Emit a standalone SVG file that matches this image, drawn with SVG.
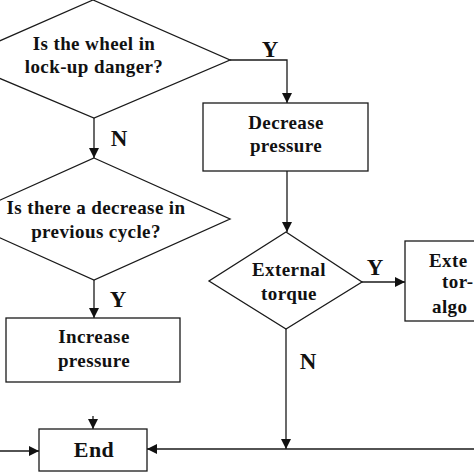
<svg xmlns="http://www.w3.org/2000/svg" width="474" height="474" viewBox="0 0 474 474">
<style>
.shape{fill:#fff;stroke:#1a1a1a;stroke-width:1.3}
.line{fill:none;stroke:#1a1a1a;stroke-width:1.3}
.t{font-family:"Liberation Serif","Times New Roman",serif;font-weight:bold;font-size:19px;letter-spacing:0.4px;fill:#111;text-anchor:middle}
.lbl{font-family:"Liberation Serif","Times New Roman",serif;font-weight:bold;font-size:23px;fill:#111;text-anchor:middle}
.end{font-size:22px}
</style>
<defs>
<marker id="ah" viewBox="0 0 10 10" refX="10" refY="5" markerWidth="11" markerHeight="10" markerUnits="userSpaceOnUse" orient="auto">
<path d="M0,0 L10,5 L0,10 Z" fill="#111"/>
</marker>
</defs>
<rect width="474" height="474" fill="#fff"/>
<g id="connectors">
<path class="line" d="M230,60 H287 V103" marker-end="url(#ah)"/>
<path class="line" d="M94,118 V158" marker-end="url(#ah)"/>
<path class="line" d="M287,171 V232" marker-end="url(#ah)"/>
<path class="line" d="M94,280 V318" marker-end="url(#ah)"/>
<path class="line" d="M362,282 H405" marker-end="url(#ah)"/>
<path class="line" d="M286,329 V449" marker-end="url(#ah)"/>
<path class="line" d="M474,449 H147" marker-end="url(#ah)"/>
<path class="line" d="M0,451 H39" marker-end="url(#ah)"/>
<path class="line" d="M93,416 V429" marker-end="url(#ah)"/>
<text class="lbl" x="270" y="57">Y</text>
<text class="lbl" x="119" y="146">N</text>
<text class="lbl" x="118" y="307">Y</text>
<text class="lbl" x="375" y="275">Y</text>
<text class="lbl" x="308" y="369">N</text>
</g>
<g id="wheel-danger">
<polygon class="shape" points="93,0 230,60 94,118 -44,60"/>
<text class="t" x="94" y="50">Is the wheel in</text>
<text class="t" x="94" y="73">lock-up danger?</text>
</g>
<g id="decrease-pressure">
<rect class="shape" x="203" y="103" width="165" height="68"/>
<text class="t" x="286" y="129">Decrease</text>
<text class="t" x="286" y="152">pressure</text>
</g>
<g id="previous-decrease">
<polygon class="shape" points="94,158 230,219 94,280 -42,219"/>
<text class="t" x="96" y="214">Is there a decrease in</text>
<text class="t" x="96" y="238">previous cycle?</text>
</g>
<g id="external-torque">
<polygon class="shape" points="286,232 362,282 286,329 209,281"/>
<text class="t" x="289" y="276">External</text>
<text class="t" x="289" y="300">torque</text>
</g>
<g id="external-algorithm">
<rect class="shape" x="405" y="241" width="120" height="80"/>
<text class="t" x="429" y="267" style="text-anchor:start">Exte</text>
<text class="t" x="442" y="288" style="text-anchor:start">tor-</text>
<text class="t" x="432" y="313" style="text-anchor:start">algo</text>
</g>
<g id="increase-pressure">
<rect class="shape" x="6" y="318" width="174" height="64"/>
<text class="t" x="94" y="343">Increase</text>
<text class="t" x="94" y="367">pressure</text>
</g>
<g id="end">
<rect class="shape" x="39" y="429" width="108" height="42"/>
<text class="t end" x="94" y="457">End</text>
</g>
</svg>
